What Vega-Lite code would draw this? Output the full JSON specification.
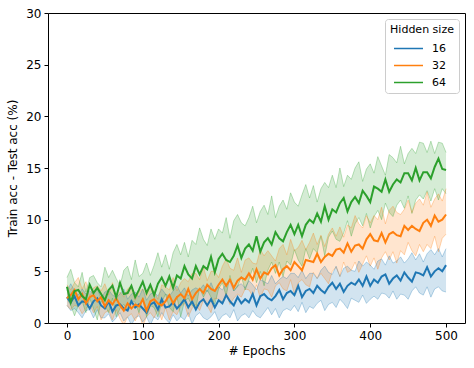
{
  "$schema": "https://vega.github.io/schema/vega-lite/v6.json",
  "width": 417,
  "height": 310,
  "autosize": {"type": "none"},
  "padding": {"left": 48, "top": 13, "right": 9, "bottom": 45},
  "background": "white",
  "config": {
    "view": {"stroke": "#000", "strokeWidth": 1},
    "axis": {
      "domain": false, "grid": false, "tickColor": "#000", "tickSize": 4, "tickWidth": 1,
      "labelFont": "DejaVu Sans", "labelFontSize": 12, "labelColor": "#000", "labelPadding": 3,
      "titleFont": "DejaVu Sans", "titleFontSize": 12, "titleFontWeight": "normal", "titleColor": "#000"
    },
    "legend": {
      "titleFont": "DejaVu Sans", "titleFontSize": 11, "titleFontWeight": "normal", "titleColor": "#000",
      "labelFont": "DejaVu Sans", "labelFontSize": 11, "labelColor": "#000"
    }
  },
  "data": {"values": [
{"e":0,"g":"16","m":2.5,"l":1.7,"h":3.1},{"e":5,"g":"16","m":2.0,"l":1.2,"h":3.8},{"e":10,"g":"16","m":2.6,"l":1.4,"h":3.1},{"e":15,"g":"16","m":1.7,"l":1.0,"h":2.7},{"e":20,"g":"16","m":2.1,"l":0.5,"h":3.3},{"e":25,"g":"16","m":2.0,"l":1.2,"h":2.8},{"e":30,"g":"16","m":1.4,"l":1.3,"h":3.1},{"e":35,"g":"16","m":2.1,"l":0.5,"h":2.8},{"e":40,"g":"16","m":2.4,"l":1.3,"h":3.4},{"e":45,"g":"16","m":1.7,"l":0.5,"h":2.3},
{"e":50,"g":"16","m":1.4,"l":0.5,"h":3.0},{"e":55,"g":"16","m":2.1,"l":0.9,"h":3.2},{"e":60,"g":"16","m":1.1,"l":0.1,"h":2.7},{"e":65,"g":"16","m":1.7,"l":0.5,"h":2.5},{"e":70,"g":"16","m":1.8,"l":1.0,"h":2.8},{"e":75,"g":"16","m":1.4,"l":0.2,"h":3.3},{"e":80,"g":"16","m":1.2,"l":0.6,"h":2.3},{"e":85,"g":"16","m":2.1,"l":-0.2,"h":2.8},{"e":90,"g":"16","m":1.5,"l":0.5,"h":3.0},{"e":95,"g":"16","m":1.8,"l":0.7,"h":2.5},
{"e":100,"g":"16","m":1.4,"l":0.1,"h":3.3},{"e":105,"g":"16","m":1.0,"l":0.6,"h":2.2},{"e":110,"g":"16","m":1.8,"l":-0.2,"h":2.8},{"e":115,"g":"16","m":2.0,"l":0.6,"h":3.0},{"e":120,"g":"16","m":1.3,"l":0.3,"h":2.6},{"e":125,"g":"16","m":2.3,"l":1.0,"h":3.3},{"e":130,"g":"16","m":1.5,"l":0.4,"h":2.8},{"e":135,"g":"16","m":1.6,"l":0.0,"h":2.6},{"e":140,"g":"16","m":2.0,"l":0.8,"h":3.1},{"e":145,"g":"16","m":1.4,"l":0.2,"h":3.6},
{"e":150,"g":"16","m":1.8,"l":0.6,"h":2.9},{"e":155,"g":"16","m":2.3,"l":0.3,"h":3.4},{"e":160,"g":"16","m":1.5,"l":1.0,"h":2.6},{"e":165,"g":"16","m":2.1,"l":-0.1,"h":3.2},{"e":170,"g":"16","m":1.3,"l":0.7,"h":3.4},{"e":175,"g":"16","m":2.0,"l":1.0,"h":3.2},{"e":180,"g":"16","m":2.3,"l":0.5,"h":3.7},{"e":185,"g":"16","m":1.7,"l":0.3,"h":3.0},{"e":190,"g":"16","m":2.3,"l":0.6,"h":3.9},{"e":195,"g":"16","m":1.5,"l":1.1,"h":3.0},
{"e":200,"g":"16","m":2.2,"l":0.2,"h":3.5},{"e":205,"g":"16","m":1.9,"l":0.7,"h":3.2},{"e":210,"g":"16","m":2.7,"l":0.9,"h":3.8},{"e":215,"g":"16","m":2.1,"l":0.5,"h":4.0},{"e":220,"g":"16","m":1.7,"l":1.3,"h":3.1},{"e":225,"g":"16","m":2.5,"l":0.2,"h":3.6},{"e":230,"g":"16","m":1.9,"l":0.7,"h":3.8},{"e":235,"g":"16","m":2.3,"l":0.9,"h":3.4},{"e":240,"g":"16","m":2.0,"l":0.5,"h":4.1},{"e":245,"g":"16","m":2.8,"l":1.2,"h":3.7},
{"e":250,"g":"16","m":1.7,"l":0.7,"h":3.2},{"e":255,"g":"16","m":2.6,"l":0.5,"h":4.2},{"e":260,"g":"16","m":2.8,"l":1.0,"h":4.0},{"e":265,"g":"16","m":2.4,"l":1.5,"h":3.8},{"e":270,"g":"16","m":2.2,"l":0.8,"h":4.6},{"e":275,"g":"16","m":2.6,"l":1.4,"h":3.8},{"e":280,"g":"16","m":3.2,"l":0.5,"h":4.2},{"e":285,"g":"16","m":2.3,"l":1.2,"h":4.5},{"e":290,"g":"16","m":2.9,"l":1.4,"h":4.3},{"e":295,"g":"16","m":3.1,"l":1.2,"h":4.8},
{"e":300,"g":"16","m":2.7,"l":1.7,"h":4.8},{"e":305,"g":"16","m":3.6,"l":1.1,"h":4.4},{"e":310,"g":"16","m":2.5,"l":2.0,"h":5.1},{"e":315,"g":"16","m":3.1,"l":1.0,"h":4.3},{"e":320,"g":"16","m":3.3,"l":1.6,"h":4.8},{"e":325,"g":"16","m":2.9,"l":1.4,"h":4.8},{"e":330,"g":"16","m":3.6,"l":1.9,"h":4.3},{"e":335,"g":"16","m":3.2,"l":2.2,"h":5.1},{"e":340,"g":"16","m":2.9,"l":1.2,"h":5.5},{"e":345,"g":"16","m":3.5,"l":1.8,"h":4.9},
{"e":350,"g":"16","m":3.9,"l":2.0,"h":4.7},{"e":355,"g":"16","m":3.3,"l":1.5,"h":5.5},{"e":360,"g":"16","m":3.8,"l":2.3,"h":4.5},{"e":365,"g":"16","m":3.0,"l":1.9,"h":5.3},{"e":370,"g":"16","m":3.6,"l":1.4,"h":5.5},{"e":375,"g":"16","m":3.9,"l":2.4,"h":5.1},{"e":380,"g":"16","m":3.7,"l":2.2,"h":5.0},{"e":385,"g":"16","m":4.2,"l":2.0,"h":6.0},{"e":390,"g":"16","m":3.6,"l":2.7,"h":5.5},{"e":395,"g":"16","m":4.5,"l":1.9,"h":5.9},
{"e":400,"g":"16","m":3.6,"l":2.3,"h":5.6},{"e":405,"g":"16","m":4.2,"l":2.6,"h":5.2},{"e":410,"g":"16","m":3.9,"l":2.3,"h":6.0},{"e":415,"g":"16","m":4.5,"l":2.9,"h":6.2},{"e":420,"g":"16","m":4.7,"l":2.8,"h":5.6},{"e":425,"g":"16","m":3.8,"l":2.4,"h":6.5},{"e":430,"g":"16","m":4.3,"l":3.1,"h":5.8},{"e":435,"g":"16","m":4.6,"l":2.3,"h":6.0},{"e":440,"g":"16","m":4.1,"l":2.8,"h":6.4},{"e":445,"g":"16","m":4.9,"l":2.7,"h":5.8},
{"e":450,"g":"16","m":4.4,"l":2.3,"h":6.2},{"e":455,"g":"16","m":4.0,"l":3.1,"h":6.8},{"e":460,"g":"16","m":4.9,"l":3.5,"h":6.1},{"e":465,"g":"16","m":4.8,"l":2.9,"h":6.7},{"e":470,"g":"16","m":4.6,"l":2.7,"h":5.9},{"e":475,"g":"16","m":5.4,"l":3.5,"h":6.7},{"e":480,"g":"16","m":4.5,"l":2.5,"h":7.1},{"e":485,"g":"16","m":5.0,"l":3.3,"h":6.6},{"e":490,"g":"16","m":5.3,"l":3.5,"h":7.2},{"e":495,"g":"16","m":5.0,"l":3.1,"h":6.4},{"e":500,"g":"16","m":5.6,"l":3.0,"h":7.2},

{"e":0,"g":"32","m":2.4,"l":1.7,"h":3.7},{"e":5,"g":"32","m":2.7,"l":1.3,"h":3.2},{"e":10,"g":"32","m":3.2,"l":1.7,"h":3.9},{"e":15,"g":"32","m":2.3,"l":1.6,"h":4.4},{"e":20,"g":"32","m":2.8,"l":0.9,"h":3.3},{"e":25,"g":"32","m":1.9,"l":1.4,"h":4.0},{"e":30,"g":"32","m":2.5,"l":1.8,"h":2.6},{"e":35,"g":"32","m":2.7,"l":1.0,"h":3.4},{"e":40,"g":"32","m":2.1,"l":1.6,"h":3.6},{"e":45,"g":"32","m":2.5,"l":0.3,"h":3.1},
{"e":50,"g":"32","m":1.6,"l":1.0,"h":3.8},{"e":55,"g":"32","m":2.2,"l":1.2,"h":2.7},{"e":60,"g":"32","m":1.8,"l":0.3,"h":3.9},{"e":65,"g":"32","m":2.4,"l":1.3,"h":2.3},{"e":70,"g":"32","m":1.7,"l":0.4,"h":3.0},{"e":75,"g":"32","m":1.2,"l":-0.2,"h":2.5},{"e":80,"g":"32","m":1.9,"l":0.6,"h":3.3},{"e":85,"g":"32","m":1.4,"l":0.9,"h":3.6},{"e":90,"g":"32","m":1.8,"l":0.2,"h":2.2},{"e":95,"g":"32","m":1.6,"l":1.0,"h":3.0},
{"e":100,"g":"32","m":2.3,"l":-0.3,"h":3.3},{"e":105,"g":"32","m":1.2,"l":0.6,"h":2.6},{"e":110,"g":"32","m":2.1,"l":1.0,"h":3.7},{"e":115,"g":"32","m":2.3,"l":0.5,"h":3.0},{"e":120,"g":"32","m":1.9,"l":1.3,"h":2.3},{"e":125,"g":"32","m":1.7,"l":0.3,"h":3.7},{"e":130,"g":"32","m":2.1,"l":1.5,"h":3.5},{"e":135,"g":"32","m":2.7,"l":0.3,"h":3.2},{"e":140,"g":"32","m":1.9,"l":1.1,"h":4.4},{"e":145,"g":"32","m":2.5,"l":0.8,"h":3.1},
{"e":150,"g":"32","m":2.8,"l":1.6,"h":3.9},{"e":155,"g":"32","m":2.4,"l":1.9,"h":4.3},{"e":160,"g":"32","m":3.3,"l":0.6,"h":4.0},{"e":165,"g":"32","m":2.3,"l":1.4,"h":4.8},{"e":170,"g":"32","m":2.9,"l":1.8,"h":4.8},{"e":175,"g":"32","m":3.3,"l":1.2,"h":4.2},{"e":180,"g":"32","m":2.9,"l":2.2,"h":5.4},{"e":185,"g":"32","m":3.7,"l":1.7,"h":4.1},{"e":190,"g":"32","m":3.3,"l":1.0,"h":5.0},{"e":195,"g":"32","m":3.1,"l":2.4,"h":5.0},
{"e":200,"g":"32","m":3.7,"l":2.3,"h":4.4},{"e":205,"g":"32","m":4.2,"l":1.9,"h":5.5},{"e":210,"g":"32","m":3.6,"l":2.9,"h":6.2},{"e":215,"g":"32","m":4.2,"l":1.8,"h":5.3},{"e":220,"g":"32","m":3.4,"l":2.4,"h":5.1},{"e":225,"g":"32","m":4.1,"l":2.8,"h":6.3},{"e":230,"g":"32","m":4.4,"l":2.5,"h":4.9},{"e":235,"g":"32","m":4.2,"l":3.3,"h":6.1},{"e":240,"g":"32","m":4.8,"l":3.2,"h":6.3},{"e":245,"g":"32","m":4.2,"l":2.6,"h":5.8},
{"e":250,"g":"32","m":5.2,"l":3.7,"h":5.7},{"e":255,"g":"32","m":4.3,"l":2.4,"h":7.1},{"e":260,"g":"32","m":4.9,"l":3.3,"h":6.5},{"e":265,"g":"32","m":4.7,"l":3.2,"h":7.0},{"e":270,"g":"32","m":5.3,"l":2.5,"h":6.5},{"e":275,"g":"32","m":5.6,"l":3.6,"h":6.0},{"e":280,"g":"32","m":4.6,"l":3.9,"h":7.2},{"e":285,"g":"32","m":5.2,"l":3.3,"h":7.6},{"e":290,"g":"32","m":5.5,"l":3.1,"h":6.6},{"e":295,"g":"32","m":5.1,"l":4.2,"h":8.1},
{"e":300,"g":"32","m":5.9,"l":2.8,"h":7.0},{"e":305,"g":"32","m":5.5,"l":3.9,"h":7.3},{"e":310,"g":"32","m":5.1,"l":4.2,"h":8.0},{"e":315,"g":"32","m":6.1,"l":3.7,"h":7.1},{"e":320,"g":"32","m":6.0,"l":3.5,"h":7.8},{"e":325,"g":"32","m":5.9,"l":4.9,"h":8.7},{"e":330,"g":"32","m":6.7,"l":4.3,"h":7.6},{"e":335,"g":"32","m":5.9,"l":4.8,"h":8.5},{"e":340,"g":"32","m":6.4,"l":4.3,"h":7.4},{"e":345,"g":"32","m":6.7,"l":3.8,"h":8.6},
{"e":350,"g":"32","m":6.5,"l":5.0,"h":9.2},{"e":355,"g":"32","m":7.1,"l":5.4,"h":8.4},{"e":360,"g":"32","m":7.2,"l":4.5,"h":9.3},{"e":365,"g":"32","m":6.8,"l":5.9,"h":8.3},{"e":370,"g":"32","m":7.7,"l":4.9,"h":9.5},{"e":375,"g":"32","m":6.9,"l":5.1,"h":9.2},{"e":380,"g":"32","m":7.5,"l":5.9,"h":10.4},{"e":385,"g":"32","m":7.6,"l":4.9,"h":9.6},{"e":390,"g":"32","m":7.2,"l":5.7,"h":9.2},{"e":395,"g":"32","m":8.1,"l":6.5,"h":10.4},
{"e":400,"g":"32","m":8.6,"l":5.5,"h":9.7},{"e":405,"g":"32","m":8.0,"l":6.3,"h":10.4},{"e":410,"g":"32","m":7.9,"l":5.2,"h":10.0},{"e":415,"g":"32","m":8.7,"l":6.3,"h":11.2},{"e":420,"g":"32","m":7.8,"l":6.9,"h":9.6},{"e":425,"g":"32","m":8.6,"l":6.1,"h":10.9},{"e":430,"g":"32","m":8.8,"l":6.9,"h":11.3},{"e":435,"g":"32","m":8.5,"l":5.8,"h":10.7},{"e":440,"g":"32","m":8.4,"l":7.0,"h":10.5},{"e":445,"g":"32","m":9.4,"l":6.6,"h":11.0},
{"e":450,"g":"32","m":9.0,"l":7.8,"h":11.9},{"e":455,"g":"32","m":9.4,"l":7.0,"h":10.7},{"e":460,"g":"32","m":9.1,"l":6.5,"h":11.6},{"e":465,"g":"32","m":8.9,"l":7.6,"h":12.0},{"e":470,"g":"32","m":9.7,"l":6.9,"h":11.4},{"e":475,"g":"32","m":10.0,"l":7.6,"h":12.7},{"e":480,"g":"32","m":9.4,"l":7.2,"h":11.2},{"e":485,"g":"32","m":10.4,"l":8.4,"h":12.0},{"e":490,"g":"32","m":9.8,"l":6.9,"h":12.5},{"e":495,"g":"32","m":10.0,"l":8.2,"h":11.8},{"e":500,"g":"32","m":10.5,"l":8.6,"h":13.0},

{"e":0,"g":"64","m":3.5,"l":2.4,"h":4.4},{"e":5,"g":"64","m":2.0,"l":1.7,"h":5.2},{"e":10,"g":"64","m":3.1,"l":0.7,"h":3.9},{"e":15,"g":"64","m":3.2,"l":1.7,"h":3.5},{"e":20,"g":"64","m":2.6,"l":2.1,"h":4.9},{"e":25,"g":"64","m":2.3,"l":1.0,"h":3.0},{"e":30,"g":"64","m":3.7,"l":2.4,"h":4.4},{"e":35,"g":"64","m":2.9,"l":1.4,"h":4.6},{"e":40,"g":"64","m":3.4,"l":0.3,"h":3.9},{"e":45,"g":"64","m":2.8,"l":2.1,"h":3.5},
{"e":50,"g":"64","m":2.2,"l":1.7,"h":5.4},{"e":55,"g":"64","m":3.2,"l":1.0,"h":4.4},{"e":60,"g":"64","m":3.6,"l":2.4,"h":5.1},{"e":65,"g":"64","m":2.5,"l":0.6,"h":4.3},{"e":70,"g":"64","m":3.9,"l":1.4,"h":3.6},{"e":75,"g":"64","m":2.8,"l":1.8,"h":5.1},{"e":80,"g":"64","m":2.9,"l":1.2,"h":5.5},{"e":85,"g":"64","m":3.6,"l":2.2,"h":4.2},{"e":90,"g":"64","m":2.5,"l":2.0,"h":6.1},{"e":95,"g":"64","m":3.2,"l":1.0,"h":4.5},
{"e":100,"g":"64","m":4.0,"l":2.4,"h":4.8},{"e":105,"g":"64","m":2.9,"l":0.6,"h":5.8},{"e":110,"g":"64","m":3.7,"l":1.7,"h":4.6},{"e":115,"g":"64","m":2.7,"l":1.5,"h":5.6},{"e":120,"g":"64","m":3.8,"l":0.6,"h":6.8},{"e":125,"g":"64","m":4.4,"l":2.0,"h":5.4},{"e":130,"g":"64","m":3.6,"l":2.8,"h":6.6},{"e":135,"g":"64","m":4.5,"l":1.5,"h":5.2},{"e":140,"g":"64","m":3.4,"l":1.1,"h":6.8},{"e":145,"g":"64","m":4.6,"l":2.6,"h":7.6},
{"e":150,"g":"64","m":4.3,"l":0.6,"h":6.6},{"e":155,"g":"64","m":5.5,"l":2.1,"h":7.8},{"e":160,"g":"64","m":4.7,"l":2.4,"h":6.4},{"e":165,"g":"64","m":4.3,"l":1.7,"h":8.0},{"e":170,"g":"64","m":5.5,"l":1.4,"h":7.6},{"e":175,"g":"64","m":4.7,"l":3.4,"h":9.2},{"e":180,"g":"64","m":5.5,"l":2.5,"h":8.1},{"e":185,"g":"64","m":5.2,"l":3.2,"h":7.5},{"e":190,"g":"64","m":6.4,"l":2.5,"h":9.1},{"e":195,"g":"64","m":4.9,"l":1.8,"h":8.1},
{"e":200,"g":"64","m":6.2,"l":3.3,"h":9.1},{"e":205,"g":"64","m":6.7,"l":3.9,"h":8.7},{"e":210,"g":"64","m":6.1,"l":2.6,"h":10.2},{"e":215,"g":"64","m":5.9,"l":4.6,"h":8.2},{"e":220,"g":"64","m":6.5,"l":3.1,"h":9.9},{"e":225,"g":"64","m":7.5,"l":3.5,"h":10.5},{"e":230,"g":"64","m":6.3,"l":4.5,"h":9.7},{"e":235,"g":"64","m":7.2,"l":3.2,"h":9.4},{"e":240,"g":"64","m":7.6,"l":4.2,"h":10.2},{"e":245,"g":"64","m":7.0,"l":5.3,"h":11.3},
{"e":250,"g":"64","m":8.4,"l":3.9,"h":9.7},{"e":255,"g":"64","m":6.9,"l":5.0,"h":10.8},{"e":260,"g":"64","m":7.8,"l":3.6,"h":11.4},{"e":265,"g":"64","m":8.2,"l":5.1,"h":10.5},{"e":270,"g":"64","m":7.6,"l":5.9,"h":12.3},{"e":275,"g":"64","m":8.8,"l":4.8,"h":10.2},{"e":280,"g":"64","m":8.2,"l":5.9,"h":11.3},{"e":285,"g":"64","m":7.9,"l":4.5,"h":11.9},{"e":290,"g":"64","m":8.8,"l":6.0,"h":11.0},{"e":295,"g":"64","m":9.5,"l":5.6,"h":12.6},
{"e":300,"g":"64","m":8.6,"l":7.1,"h":11.7},{"e":305,"g":"64","m":9.5,"l":6.1,"h":11.3},{"e":310,"g":"64","m":8.4,"l":5.5,"h":12.4},{"e":315,"g":"64","m":9.5,"l":7.2,"h":13.4},{"e":320,"g":"64","m":10.0,"l":6.2,"h":12.1},{"e":325,"g":"64","m":9.7,"l":7.2,"h":13.3},{"e":330,"g":"64","m":10.6,"l":6.8,"h":11.7},{"e":335,"g":"64","m":9.8,"l":8.4,"h":13.0},{"e":340,"g":"64","m":11.3,"l":6.5,"h":13.6},{"e":345,"g":"64","m":10.0,"l":8.3,"h":13.1},
{"e":350,"g":"64","m":11.0,"l":8.9,"h":14.3},{"e":355,"g":"64","m":10.7,"l":8.1,"h":13.1},{"e":360,"g":"64","m":11.6,"l":7.9,"h":15.0},{"e":365,"g":"64","m":12.1,"l":8.7,"h":13.2},{"e":370,"g":"64","m":10.8,"l":9.9,"h":14.3},{"e":375,"g":"64","m":11.7,"l":8.4,"h":13.9},{"e":380,"g":"64","m":12.2,"l":9.6,"h":15.0},{"e":385,"g":"64","m":11.6,"l":10.2,"h":15.6},{"e":390,"g":"64","m":12.8,"l":9.4,"h":13.7},{"e":395,"g":"64","m":12.3,"l":10.6,"h":14.9},
{"e":400,"g":"64","m":11.7,"l":9.2,"h":15.4},{"e":405,"g":"64","m":13.2,"l":10.3,"h":14.5},{"e":410,"g":"64","m":13.0,"l":10.9,"h":16.1},{"e":415,"g":"64","m":12.7,"l":10.0,"h":15.2},{"e":420,"g":"64","m":13.9,"l":11.6,"h":14.3},{"e":425,"g":"64","m":12.7,"l":10.7,"h":16.3},{"e":430,"g":"64","m":13.4,"l":10.3,"h":16.0},{"e":435,"g":"64","m":13.9,"l":11.4,"h":15.5},{"e":440,"g":"64","m":13.6,"l":11.9,"h":17.1},{"e":445,"g":"64","m":14.5,"l":11.1,"h":15.4},
{"e":450,"g":"64","m":14.5,"l":12.3,"h":16.4},{"e":455,"g":"64","m":13.8,"l":10.6,"h":16.9},{"e":460,"g":"64","m":15.0,"l":11.9,"h":16.4},{"e":465,"g":"64","m":13.8,"l":12.4,"h":17.5},{"e":470,"g":"64","m":14.6,"l":12.0,"h":17.4},{"e":475,"g":"64","m":14.6,"l":12.8,"h":16.5},{"e":480,"g":"64","m":14.0,"l":11.8,"h":17.6},{"e":485,"g":"64","m":15.1,"l":13.0,"h":16.4},{"e":490,"g":"64","m":15.9,"l":11.9,"h":17.5},{"e":495,"g":"64","m":14.9,"l":13.0,"h":17.4},{"e":500,"g":"64","m":14.8,"l":12.5,"h":16.5}
  ]},
  "encoding": {
    "x": {"field": "e", "type": "quantitative", "title": "# Epochs",
          "scale": {"domain": [-25, 525], "nice": false, "zero": false},
          "axis": {"values": [0, 100, 200, 300, 400, 500], "titlePadding": 4}},
    "color": {"field": "g", "type": "nominal", "title": "Hidden size",
              "scale": {"domain": ["16", "32", "64"], "range": ["#1f77b4", "#ff7f0e", "#2ca02c"]},
              "legend": {"orient": "top-right", "offset": 6, "symbolType": "M-1.7,0H1.7", "symbolSize": 290,
                         "symbolStrokeWidth": 1.5, "strokeColor": "#cccccc", "fillColor": "#ffffff",
                         "padding": 5, "cornerRadius": 3, "titleAnchor": "middle", "rowPadding": 2,
                         "labelOffset": 14, "titlePadding": 4,
                         "encode": {"symbols": {"update": {"opacity": {"value": 1}, "fillOpacity": {"value": 0}, "strokeOpacity": {"value": 1}}}}}}
  },
  "layer": [
    {"mark": {"type": "area", "opacity": 0.2, "clip": true},
     "encoding": {"y": {"field": "l", "type": "quantitative", "title": "Train acc - Test acc (%)",
                        "scale": {"domain": [0, 30], "nice": false},
                        "axis": {"values": [0, 5, 10, 15, 20, 25, 30], "titlePadding": 6}},
                  "y2": {"field": "h"}}},
    {"mark": {"type": "line", "opacity": 0.3, "strokeWidth": 1, "clip": true},
     "encoding": {"y": {"field": "l", "type": "quantitative"}}},
    {"mark": {"type": "line", "opacity": 0.3, "strokeWidth": 1, "clip": true},
     "encoding": {"y": {"field": "h", "type": "quantitative"}}},
    {"mark": {"type": "line", "strokeWidth": 2, "clip": true},
     "encoding": {"y": {"field": "m", "type": "quantitative"}}}
  ]
}
